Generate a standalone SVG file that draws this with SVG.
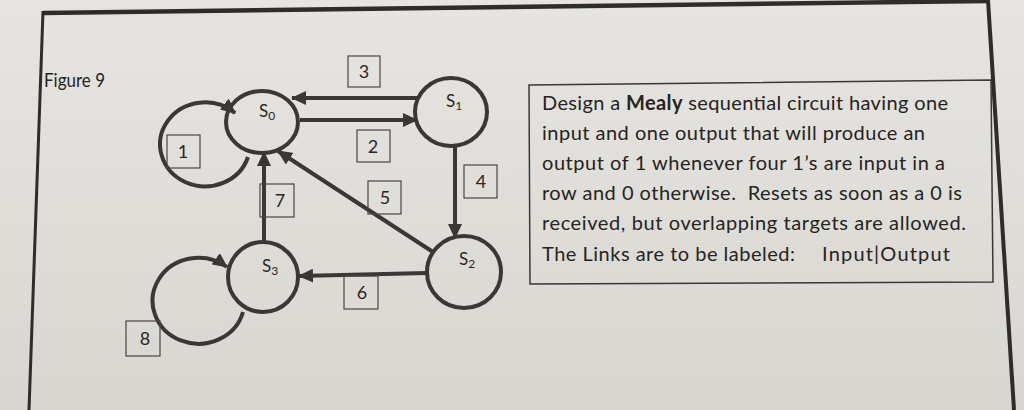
<svg xmlns="http://www.w3.org/2000/svg" width="1024" height="410" viewBox="0 0 1024 410">
<defs>
<linearGradient id="paper" x1="0" y1="0" x2="0" y2="1">
<stop offset="0" stop-color="#e6e5e1"/>
<stop offset="1" stop-color="#d8d6d0"/>
</linearGradient>
<marker id="ah" markerUnits="userSpaceOnUse" markerWidth="16" markerHeight="14" refX="14" refY="7" orient="auto">
<path d="M0,0 L15,7 L0,14 z" fill="#3a3734"/>
</marker>
<style>
.st{fill:none;stroke:#3a3734;stroke-width:4}
.ed{fill:none;stroke:#3a3734;stroke-width:4;marker-end:url(#ah)}
.lb{fill:none;stroke:#4a4744;stroke-width:1.2}
.lt{font-family:Lato,"Liberation Sans",sans-serif;font-size:18px;fill:#2a2725;text-anchor:middle}
.sn{font-family:Lato,"Liberation Sans",sans-serif;font-size:17px;fill:#2a2725;text-anchor:middle}
.tx{font-family:Lato,"Liberation Sans",sans-serif;font-size:20px;fill:#262321}
</style>
</defs>
<rect x="0" y="0" width="1024" height="410" fill="url(#paper)"/>
<g id="frame" fill="none" stroke="#2f2c2a">
<path d="M43 13 L988 1" stroke-width="4.5"/>
<path d="M43 11 L29 410" stroke-width="3"/>
<path d="M988 0 L1014 410" stroke-width="4"/>
</g>
<text class="tx" x="44" y="87" font-size="18" textLength="61" lengthAdjust="spacingAndGlyphs">Figure 9</text>
<g id="S0"><ellipse class="st" cx="262" cy="122" rx="36" ry="31"/><text class="sn" x="267" y="117">S<tspan font-size="12" dy="3">0</tspan></text></g>
<g id="S1"><ellipse class="st" cx="451" cy="112" rx="36" ry="34"/><text class="sn" x="454" y="107">S<tspan font-size="12" dy="3">1</tspan></text></g>
<g id="S2"><ellipse class="st" cx="464" cy="272" rx="37" ry="36"/><text class="sn" x="467" y="265">S<tspan font-size="12" dy="3">2</tspan></text></g>
<g id="S3"><ellipse class="st" cx="263" cy="277" rx="35" ry="35"/><text class="sn" x="270" y="272">S<tspan font-size="12" dy="3">3</tspan></text></g>
<g id="connectors">
<path class="ed" d="M417 98 L292 98"/>
<path class="ed" d="M300 120 L417 120"/>
<path class="ed" d="M455 145 L455 238"/>
<path class="ed" d="M433 252 L278 151"/>
<path class="ed" d="M427 273 L299 276"/>
<path class="ed" d="M264 242 L264 152"/>
<path class="ed" d="M248 157 A45 42 0 1 1 235 113"/>
<path class="ed" d="M243 312 A46 43 0 1 1 227 267"/>
</g>
<g id="labels">
<rect class="lb" x="348" y="56" width="32" height="31"/><text class="lt" x="364" y="78">3</text>
<rect class="lb" x="357" y="130" width="33" height="32"/><text class="lt" x="373" y="153">2</text>
<rect class="lb" x="167" y="135" width="33" height="33"/><text class="lt" x="183" y="158">1</text>
<rect class="lb" x="464" y="165" width="33" height="33"/><text class="lt" x="481" y="188">4</text>
<rect class="lb" x="368" y="181" width="33" height="33"/><text class="lt" x="385" y="204">5</text>
<rect class="lb" x="260" y="184" width="34" height="33"/><text class="lt" x="280" y="207">7</text>
<rect class="lb" x="344" y="276" width="34" height="33"/><text class="lt" x="362" y="299">6</text>
<rect class="lb" x="126" y="321" width="34" height="35"/><text class="lt" x="145" y="345">8</text>
</g>
<g id="textbox">
<path d="M529 85 L991 80 L993 282 L530 284 Z" fill="none" stroke="#3a3734" stroke-width="1.5"/>
<text class="tx" x="542" y="110" textLength="406">Design a <tspan font-weight="bold">Mealy</tspan> sequential circuit having one</text>
<text class="tx" x="542" y="140" textLength="383">input and one output that will produce an</text>
<text class="tx" x="542" y="170" textLength="403">output of 1 whenever four 1’s are input in a</text>
<text class="tx" x="542" y="200" textLength="420" xml:space="preserve">row and 0 otherwise.  Resets as soon as a 0 is</text>
<text class="tx" x="542" y="230" textLength="424">received, but overlapping targets are allowed.</text>
<text class="tx" x="542" y="261" textLength="253">The Links are to be labeled:</text>
<text class="tx" x="822" y="261" textLength="128">Input|Output</text>
</g>
</svg>
